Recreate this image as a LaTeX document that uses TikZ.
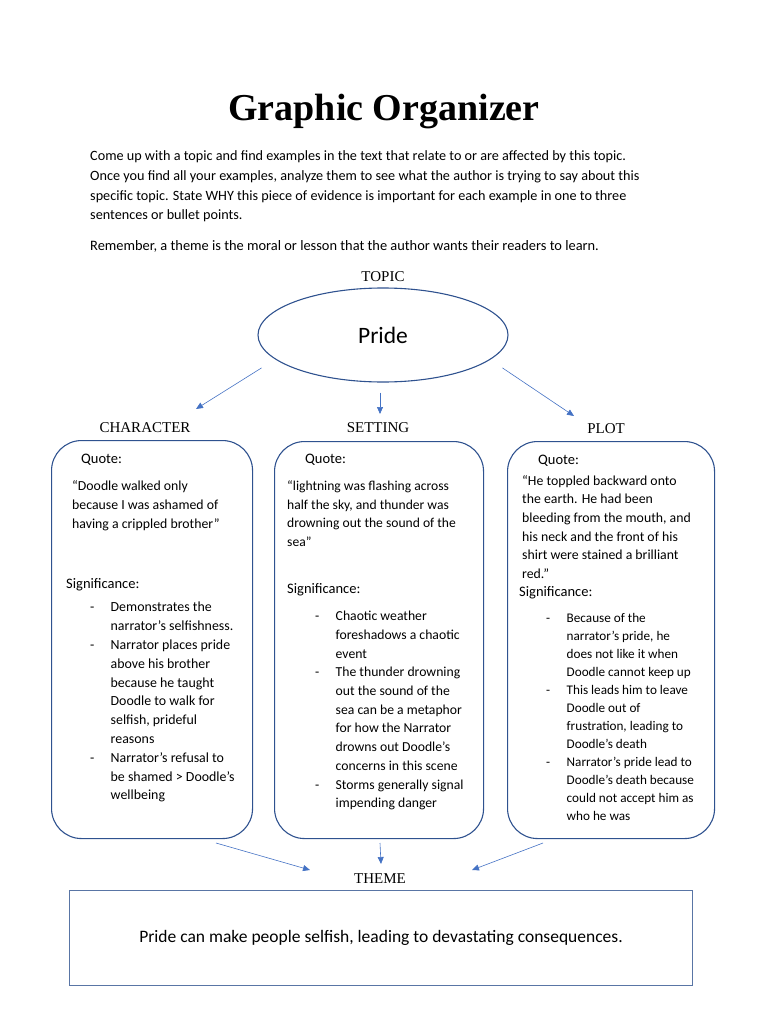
\documentclass[tikz,border=0pt]{standalone}
\usepackage{fontspec}
\setmainfont{Carlito}
\newfontfamily\headfont{Liberation Serif}
\usetikzlibrary{shapes.geometric, positioning, arrows.meta}

\definecolor{boxblue}{RGB}{47,82,143}
\definecolor{arrowblue}{RGB}{68,114,196}

% dash bullet with hanging indent
\newcommand{\dashitem}{\makebox[20.5pt][l]{-}}
\newcommand{\dashcont}{\hspace*{20.5pt}}
\newcommand{\fs}[2]{\fontsize{#1}{#2}\selectfont}

\begin{document}
\begin{tikzpicture}[x=1pt, y=-1pt,
    box/.style={draw=boxblue, line width=1.1pt, rounded corners=30pt, anchor=north west, inner sep=0pt},
    head/.style={font=\headfont\fs{15}{17}, inner sep=1pt},
    body/.style={font=\fs{13.8}{18.8}, align=left, anchor=north west, inner sep=0pt,
        execute at begin node={\rule{0pt}{1em}}},
    multi/.style={body, yshift=-5pt},
    label/.style={body, font=\fs{14.5}{18}},
    arr/.style={draw=arrowblue, line width=0.6pt, -{Triangle[length=7pt,width=6pt]}}]
    \useasboundingbox (0,0) rectangle (768,1024);

    % title and instructions
    \node (title) at (384,112) {\headfont\bfseries\fs{38}{42}Graphic Organizer};
    \node[multi, font=\fs{14.2}{19.7}] (intro) at (90,145.8)
        {Come up with a topic and find examples in the text that relate to or are affected by this topic.\\
         Once you find all your examples, analyze them to see what the author is trying to say about this\\
         specific topic. State WHY this piece of evidence is important for each example in one to three\\
         sentences or bullet points.};
    \node[body, font=\fs{14.4}{19.7}] (remember) at (90,235.8)
        {Remember, a theme is the moral or lesson that the author wants their readers to learn.};

    % topic
    \node[head] (topic) at (383,277) {TOPIC};
    \node[ellipse, draw=boxblue, line width=1.1pt, minimum width=250pt, minimum height=94pt,
          font=\fs{23.5}{28}] (pride) at (383,335) {Pride};

    % boxes
    \node[box, minimum width=201pt, minimum height=398pt] (char) at (51,440) {};
    \node[box, minimum width=209pt, minimum height=397pt] (setting) at (274,441) {};
    \node[box, minimum width=207pt, minimum height=397pt] (plot) at (507,441) {};

    \node[head] (charlabel) at (145,428) {CHARACTER};
    \node[head] (setlabel) at (378,428) {SETTING};
    \node[head, fill=white, inner xsep=6pt] (plotlabel) at (606,429) {PLOT};

    % character box
    \node[label] (charquote) at ([shift={(30,8.5)}]char.north west) {Quote:};
    \node[multi, font=\fs{13.8}{19}] (chartext) at ([shift={(21,35)}]char.north west)
        {“Doodle walked only\\ because I was ashamed of\\ having a crippled brother”};
    \node[label] (charsig) at ([shift={(15,133.5)}]char.north west) {Significance:};
    \node[multi, font=\fs{13.9}{18.8}] (charlist) at ([shift={(39,157)}]char.north west)
        {\dashitem Demonstrates the\\ \dashcont narrator’s selfishness.\\
         \dashitem Narrator places pride\\ \dashcont above his brother\\ \dashcont because he taught\\
         \dashcont Doodle to walk for\\ \dashcont selfish, prideful\\ \dashcont reasons\\
         \dashitem Narrator’s refusal to\\ \dashcont be shamed > Doodle’s\\ \dashcont wellbeing};

    % setting box
    \node[label] (setquote) at ([shift={(31,7.5)}]setting.north west) {Quote:};
    \node[multi, font=\fs{13.6}{18.7}] (settext) at ([shift={(13,34.4)}]setting.north west)
        {“lightning was flashing across\\ half the sky, and thunder was\\ drowning out the sound of the\\ sea”};
    \node[label] (setsig) at ([shift={(13,137.5)}]setting.north west) {Significance:};
    \node[multi, font=\fs{13.7}{18.7}] (setlist) at ([shift={(41,165)}]setting.north west)
        {\dashitem Chaotic weather\\ \dashcont foreshadows a chaotic\\ \dashcont event\\
         \dashitem The thunder drowning\\ \dashcont out the sound of the\\ \dashcont sea can be a metaphor\\
         \dashcont for how the Narrator\\ \dashcont drowns out Doodle’s\\ \dashcont concerns in this scene\\
         \dashitem Storms generally signal\\ \dashcont impending danger};

    % plot box
    \node[label] (plotquote) at ([shift={(31,8.5)}]plot.north west) {Quote:};
    \node[multi, font=\fs{13.8}{18.6}] (plottext) at ([shift={(15,29.2)}]plot.north west)
        {“He toppled backward onto\\ the earth. He had been\\ bleeding from the mouth, and\\
         his neck and the front of his\\ shirt were stained a brilliant\\ red.”};
    \node[label] (plotsig) at ([shift={(12,140.5)}]plot.north west) {Significance:};
    \node[multi, font=\fs{13.2}{18}] (plotlist) at ([shift={(39,167)}]plot.north west)
        {\dashitem Because of the\\ \dashcont narrator’s pride, he\\ \dashcont does not like it when\\
         \dashcont Doodle cannot keep up\\
         \dashitem This leads him to leave\\ \dashcont Doodle out of\\ \dashcont frustration, leading to\\
         \dashcont Doodle’s death\\
         \dashitem Narrator’s pride lead to\\ \dashcont Doodle’s death because\\ \dashcont could not accept him as\\
         \dashcont who he was};

    % theme
    \node[head] (themelabel) at (380,879) {THEME};
    \node[draw=boxblue!80, line width=1pt, minimum width=623pt, minimum height=95pt, anchor=north west,
          font=\fs{17.5}{20}] (theme) at (69,890)
        {Pride can make people selfish, leading to devastating consequences.};

    % arrows
    \coordinate (tochar) at (196,409);
    \coordinate (toset) at (380,414);
    \coordinate (toplot) at (574,416);
    \coordinate (fromchar) at (216,843);
    \coordinate (fromset) at (380,843);
    \coordinate (fromplot) at (543,843);
    \coordinate (themel) at (310,870);
    \coordinate (themem) at (381,864);
    \coordinate (themer) at (472,870);

    \path
        ([xshift=-31pt]pride.200) edge[arr] (tochar)
        ([xshift=-3pt,yshift=-10pt]pride.south) edge[arr] (toset)
        ([xshift=29pt]pride.-20) edge[arr] (toplot)
        (fromchar) edge[arr] (themel)
        (fromset) edge[arr] (themem)
        (fromplot) edge[arr] (themer);
\end{tikzpicture}
\end{document}
